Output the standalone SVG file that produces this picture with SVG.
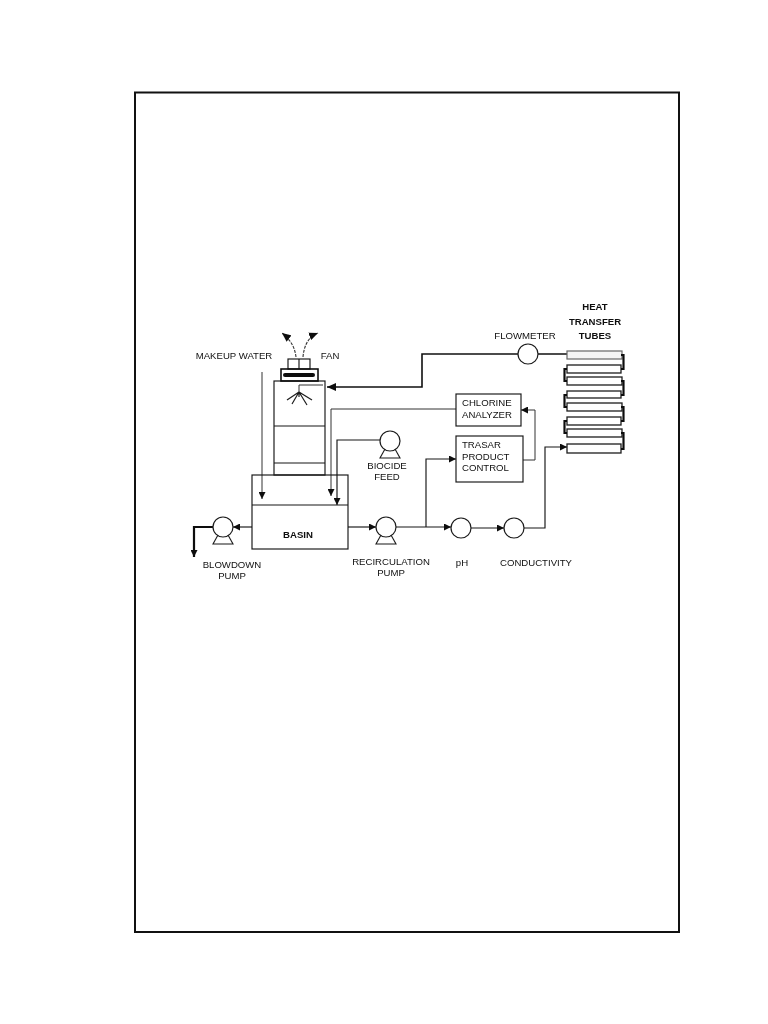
<svg xmlns="http://www.w3.org/2000/svg" width="768" height="1024" viewBox="0 0 768 1024">
<style>
text{font-family:"Liberation Sans",Arial,sans-serif;font-size:9.6px;fill:#111;text-anchor:middle}
text.b{font-weight:bold}
text.l{text-anchor:start}
.s{fill:none;stroke:#1c1c1c;stroke-width:1.2}
.m{fill:none;stroke:#111;stroke-width:1.6}
.n{fill:none;stroke:#333;stroke-width:1}
.t{fill:#fff;stroke:#1c1c1c;stroke-width:1.3}
.g{fill:#f4f4f4;stroke:#666;stroke-width:1.2}
.k{fill:none;stroke:#111;stroke-width:2.2}
.d{fill:none;stroke:#333;stroke-width:1.1;stroke-dasharray:3 1.2}
</style>
<defs>
<marker id="a" markerUnits="userSpaceOnUse" markerWidth="8" markerHeight="7" refX="7" refY="3.5" orient="auto"><path d="M0 0L7 3.5L0 7Z" fill="#111"/></marker>
<marker id="h" markerUnits="userSpaceOnUse" markerWidth="10" markerHeight="8" refX="9" refY="4" orient="auto"><path d="M0 0L9 4L0 8Z" fill="#111"/></marker>
<filter id="soft" x="0" y="0" width="768" height="1024" filterUnits="userSpaceOnUse"><feGaussianBlur stdDeviation="0.35"/></filter>
<g id="pump"><circle r="10" cx="0" cy="0" fill="#fff" stroke="#1c1c1c" stroke-width="1.2"/><path d="M-5 8L-10 17H10L5 8" fill="none" stroke="#1c1c1c" stroke-width="1.1"/></g>
</defs>
<rect width="768" height="1024" fill="#fff"/>
<rect id="page" x="135" y="92.500" width="544" height="839.500" fill="none" stroke="#111" stroke-width="2"/>
<g filter="url(#soft)">
<g id="connectors">
<path class="m" d="M567 354H538M518 354H422V387H327" marker-end="url(#h)"/>
<path class="n" d="M456 409H331V496" marker-end="url(#a)"/>
<path class="s" d="M380 440H337V505" marker-end="url(#a)"/>
<path class="n" d="M262 372V499" marker-end="url(#a)"/>
<path class="s" d="M252 527H233" marker-end="url(#a)"/>
<path class="k" d="M213 527H194V557" marker-end="url(#a)"/>
<path class="s" d="M348 527H376" marker-end="url(#a)"/>
<path class="s" d="M396 527H451" marker-end="url(#a)"/>
<path class="s" d="M471 528H504" marker-end="url(#a)"/>
<path class="s" d="M524 528H545V447H567" marker-end="url(#a)"/>
<path class="s" d="M426 527V459H456" marker-end="url(#a)"/>
<path class="n" d="M523 460H535V410H521" marker-end="url(#a)"/>
<path class="d" d="M296 357C295 348 291 340 282 333" marker-end="url(#h)"/>
<path class="d" d="M303 357C304 346 308 337 318 333" marker-end="url(#h)"/>
</g>
<g id="tower">
<rect class="s" x="274" y="381" width="51" height="94"/>
<path class="s" d="M274 426H325M274 463H325"/>
<path class="n" d="M323 385H299V393"/>
<path class="s" d="M299 392L287 400M299 392L292 404M299 392L307 405M299 392L312 400M299 392V397"/>
</g>
<g id="fan">
<rect class="s" x="288" y="359" width="22" height="10"/>
<path class="s" d="M299 359V369"/>
<rect class="m" x="281" y="369" width="37" height="12"/>
<rect x="283" y="373" width="32" height="4" rx="2" fill="#111"/>
</g>
<g id="basin">
<rect class="s" x="252" y="475" width="96" height="74"/>
<path class="s" d="M252 505H348"/>
<text class="b" x="298" y="538">BASIN</text>
</g>
<g id="blowdown-pump"><use href="#pump" x="223" y="527"/><text x="232" y="568">BLOWDOWN</text><text x="232" y="579">PUMP</text></g>
<g id="recirculation-pump"><use href="#pump" x="386" y="527"/><text x="391" y="565">RECIRCULATION</text><text x="391" y="576">PUMP</text></g>
<g id="biocide-feed"><use href="#pump" x="390" y="441"/><text x="387" y="468.500">BIOCIDE</text><text x="387" y="480">FEED</text></g>
<g id="flowmeter"><circle cx="528" cy="354" r="10" fill="#fff" stroke="#1c1c1c" stroke-width="1.2"/><text x="525" y="339">FLOWMETER</text></g>
<g id="ph"><circle cx="461" cy="528" r="10" fill="#fff" stroke="#1c1c1c" stroke-width="1.2"/><text x="462" y="565.500">pH</text></g>
<g id="conductivity"><circle cx="514" cy="528" r="10" fill="#fff" stroke="#1c1c1c" stroke-width="1.2"/><text x="536" y="565.500">CONDUCTIVITY</text></g>
<g id="chlorine-analyzer"><rect class="s" x="456" y="394" width="65" height="32"/><text class="l" x="462" y="405.500">CHLORINE</text><text class="l" x="462" y="417.500">ANALYZER</text></g>
<g id="trasar"><rect class="s" x="456" y="436" width="67" height="46"/><text class="l" x="462" y="447.500">TRASAR</text><text class="l" x="462" y="459.500">PRODUCT</text><text class="l" x="462" y="470.500">CONTROL</text></g>
<g id="makeup"><text x="234" y="358.500">MAKEUP WATER</text></g>
<text x="330" y="359">FAN</text>
<g id="heat-transfer-tubes">
<rect class="g" x="567" y="351" width="55" height="8"/>
<rect class="t" x="567" y="365" width="54" height="8"/>
<rect class="t" x="567" y="377" width="55" height="8"/>
<rect class="t" x="567" y="391" width="54" height="7"/>
<rect class="t" x="567" y="403" width="55" height="8"/>
<rect class="t" x="567" y="417" width="54" height="8"/>
<rect class="t" x="567" y="429" width="55" height="8"/>
<rect class="t" x="567" y="444" width="54" height="9"/>
<path class="k" d="M621 355H623.500V369H621M567 369H564.500V381H567M621 381H623.500V395H621M567 395H564.500V407H567M621 407H623.500V421H621M567 421H564.500V433H567M621 433H623.500V449H621"/>
<text class="b" x="595" y="310">HEAT</text><text class="b" x="595" y="325">TRANSFER</text><text class="b" x="595" y="339">TUBES</text>
</g>
</g>
</svg>
